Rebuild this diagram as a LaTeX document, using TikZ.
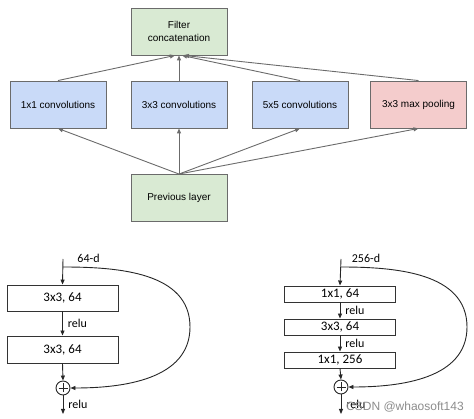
\documentclass[tikz,border=0pt]{standalone}
\usepackage{fontspec}
\setmainfont{Liberation Sans}
\newfontfamily\calib{Carlito}
\usetikzlibrary{arrows.meta}

\definecolor{boxgreen}{HTML}{D9EAD3}
\definecolor{boxblue}{HTML}{C9DAF8}
\definecolor{boxpink}{HTML}{F4CCCC}
\definecolor{linegray}{HTML}{6B6B6B}

\begin{document}
\begin{tikzpicture}[x=1pt, y=-1pt,
	inc/.style={draw=linegray, line width=0.9pt, minimum width=96pt, minimum height=47pt, inner sep=0pt, align=center, font=\fontsize{10}{13}\selectfont},
	garr/.style={-{Triangle[length=5pt,width=4pt]}, draw=linegray, line width=0.9pt},
	resbox/.style={draw=black!80, line width=0.9pt, minimum width=111pt, inner sep=0pt, font=\calib\fontsize{13}{15}\selectfont},
	barr/.style={-{Triangle[length=5pt,width=4pt]}, draw=black!85, line width=0.9pt},
	lbl/.style={inner sep=0pt, font=\calib\fontsize{12}{14}\selectfont}]

				\useasboundingbox (0,0) rectangle (474,419);

				% Inception module
				\node[inc, fill=boxgreen] (concat) at (179,31.5) {Filter\\concatenation};
				\node[inc, fill=boxblue] (c1) at (58,104.5) {1x1 convolutions};
				\node[inc, fill=boxblue] (c3) at (179,104.5) {3x3 convolutions};
				\node[inc, fill=boxblue] (c5) at (300,104.5) {5x5 convolutions};
				\node[inc, fill=boxpink] (pool) at (418.5,104.5) {3x3 max pooling};
				\node[inc, fill=boxgreen] (prev) at (179,198) {Previous layer};

				% Branches in
				\foreach \b in {c1,c3,c5,pool}
					\draw[garr] (prev.north) -- (\b.south);

				% Branches out
				\draw[garr] (c1.north) -- ([xshift=-4pt]concat.south);
				\draw[garr] (c3.north) -- (concat.south);
				\draw[garr] (c5.north) -- ([xshift=3pt]concat.south);
				\draw[garr] (pool.north) -- ([xshift=5pt]concat.south);

				% Residual block, 64-d
				\coordinate (inL) at (63,259);
				\coordinate (skipL) at (63,267);
				\node[lbl, font=\calib\fontsize{12}{14}\selectfont] (dL) at (88.5,258) {64-d};
				\node[resbox, minimum height=26pt] (l1) at (62.5,298) {3x3, 64};
				\node[resbox, minimum height=27pt] (l2) at (62.5,349.5) {3x3, 64};
				\node[draw=black!85, line width=0.9pt, circle, minimum size=14pt, inner sep=0pt] (addL) at (63,388) {};
				\draw[black!85, line width=0.8pt] (addL.center) ++(-4.5pt,0) -- ++(9pt,0) (addL.center) ++(0,-4.5pt) -- ++(0,9pt);
				\coordinate (outL) at (63,414);
				\draw[barr] (inL) -- (l1.north);
				\draw[barr] (l1.south) -- (l2.north) node[lbl, midway, right=5pt] (r1) {relu};
				\draw[barr] (l2.south) -- (addL.north);
				\draw[barr] (addL.south) -- (outL) node[lbl, midway, right=5pt] (r2) {relu};
				\draw[barr] (skipL) to[out=0, in=90] (190,327) to[out=-90, in=0] (addL.east);

				% Residual block, 256-d
				\coordinate (inR) at (341,259);
				\coordinate (skipR) at (341,267);
				\node[lbl] (dR) at (366,258) {256-d};
				\node[resbox, minimum height=16pt] (b1) at (340,294) {1x1, 64};
				\node[resbox, minimum height=16pt] (b2) at (340,327) {3x3, 64};
				\node[resbox, minimum height=16pt] (b3) at (340,360) {1x1, 256};
				\node[draw=black!85, line width=0.9pt, circle, minimum size=14pt, inner sep=0pt] (addR) at (341,387) {};
				\draw[black!85, line width=0.8pt] (addR.center) ++(-4.5pt,0) -- ++(9pt,0) (addR.center) ++(0,-4.5pt) -- ++(0,9pt);
				\coordinate (outR) at (341,414);
				\draw[barr] (inR) -- (b1.north);
				\draw[barr] (b1.south) -- (b2.north) node[lbl, midway, right=5pt] (r3) {relu};
				\draw[barr] (b2.south) -- (b3.north) node[lbl, midway, right=5pt] (r4) {relu};
				\draw[barr] (b3.south) -- (addR.north);
				\draw[barr] (addR.south) -- (outR) node[lbl, midway, right=5pt] (r5) {relu};
				\draw[barr] (skipR) to[out=0, in=90] (467,327) to[out=-90, in=0] (addR.east);

				% Watermark
				\node[text=black!45, font=\fontsize{12}{14}\selectfont, inner sep=0pt] (mark) at (405,407) {CSDN @whaosoft143};

\end{tikzpicture}
\end{document}
